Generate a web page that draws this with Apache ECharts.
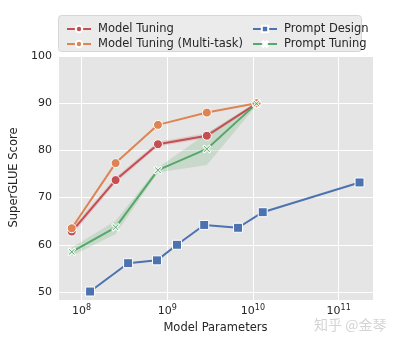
<!DOCTYPE html>
<html>
<head>
<meta charset="utf-8">
<script src="https://cdn.jsdelivr.net/npm/echarts@6/dist/echarts.min.js"></script>
<style>
html,body{margin:0;padding:0;background:#fff;}
#chart{width:397px;height:345px;}
</style>
</head>
<body>
<div id="chart"></div>
<script>
// T5 model sizes (parameters)
const t5Params = [7.7e7, 2.5e8, 7.8e8, 2.9e9, 1.1e10];
const modelTuning = [62.8, 73.7, 81.3, 83.1, 89.9];
const modelTuningLo = [62.0, 73.1, 80.8, 82.6, 89.6];
const modelTuningHi = [63.5, 74.3, 81.8, 83.6, 90.2];
const modelTuningMulti = [63.5, 77.3, 85.4, 88.0, 90.0];
const promptTuning = [58.5, 63.7, 75.8, 80.3, 89.9];
const promptTuningLo = [57.6, 62.3, 75.3, 76.9, 89.5];
const promptTuningHi = [59.4, 65.1, 76.3, 83.6, 90.2];
// GPT-3 sizes
const gpt3Params = [1.26e8, 3.5e8, 7.6e8, 1.3e9, 2.7e9, 6.7e9, 1.3e10, 1.75e11];
const promptDesign = [50.1, 56.1, 56.7, 60.0, 64.2, 63.6, 66.9, 73.2];
const yTicks = [50, 60, 70, 80, 90, 100];
const seriesNames = ['Model Tuning', 'Model Tuning (Multi-task)', 'Prompt Design', 'Prompt Tuning'];

const C = {red:'#C44E52', orange:'#DD8452', blue:'#4C72B0', green:'#55A868'};
const xMark = 'path://M4,0h2v4h4v2h-4v4h-2v-4h-4v-2h4z';

function zip(xs, ys){ return xs.map((x,i)=>[x, ys[i]]); }
function band(xs, lo, hi, color){
  return {
    type:'custom', silent:true, z:1,
    data: xs.map((x,i)=>[x, lo[i], hi[i]]),
    renderItem: function(params, api){
      if (params.dataIndex !== 0) return null;
      const up = xs.map((x,i)=>api.coord([x, hi[i]]));
      const dn = xs.map((x,i)=>api.coord([x, lo[i]])).reverse();
      return {type:'polygon', shape:{points: up.concat(dn)}, style:{fill: color, opacity:0.2}};
    },
    encode:{x:0, y:[1,2]}
  };
}
function line(name, xs, ys, color, symbol, size){
  return {
    name, type:'line', data: zip(xs, ys), z:3,
    symbol, symbolSize:size, symbolRotate: symbol===xMark?45:0,
    lineStyle:{color, width:2},
    itemStyle:{color, borderColor:'#fff', borderWidth:1},
    emphasis:{disabled:true}
  };
}

const chart = echarts.init(document.getElementById('chart'), null, {renderer:'canvas'});
const font = 'DejaVu Sans';
chart.setOption({
  animation:false,
  backgroundColor:'#fff',
  textStyle:{fontFamily:font},
  grid:{left:49, right:24, top:55, bottom:45, show:true, backgroundColor:'#e5e5e5', borderWidth:0},
  graphic:[
    {type:'rect', left:58, top:15, shape:{width:303, height:36, r:3}, style:{fill:'#ebebeb', stroke:'#d6d6d6', lineWidth:1}, z:-1},
    {type:'text', left:314, top:318, style:{text:'知乎 @金琴', fill:'#d4d4d4', font:'14px "Noto Sans CJK SC"'}}
  ],
  legend:[
    {data:[seriesNames[0], seriesNames[1]], orient:'vertical', left:61, top:18, itemWidth:24, itemHeight:8, itemGap:3,
     textStyle:{fontFamily:font, fontSize:11.5, color:'#262626', padding:[0,0,0,2]}},
    {data:[seriesNames[2], seriesNames[3]], orient:'vertical', left:247, top:18, itemWidth:24, itemHeight:8, itemGap:3,
     textStyle:{fontFamily:font, fontSize:11.5, color:'#262626', padding:[0,0,0,2]}}
  ],
  xAxis:{
    type:'log', logBase:10, min:Math.pow(10,7.725), max:Math.pow(10,11.4),
    name:'Model Parameters', nameLocation:'middle', nameGap:19,
    nameTextStyle:{fontFamily:font, fontSize:11.5, color:'#262626'},
    axisLine:{show:false}, axisTick:{show:false},
    axisLabel:{margin:4, color:'#262626', fontFamily:font, fontSize:11, showMinLabel:false, showMaxLabel:false,
      rich:{b:{fontSize:11, color:'#262626', fontFamily:font}, s:{fontSize:8, color:'#262626', fontFamily:font, padding:[0,0,7,0]}},
      formatter:function(v){ const e=Math.round(Math.log10(v)); if (Math.abs(Math.log10(v)-e)>1e-6) return ''; return '{b|10}{s|'+e+'}'; }},
    splitLine:{show:true, lineStyle:{color:'#fff', width:1}},
    minorSplitLine:{show:false}
  },
  yAxis:{
    type:'value', min:48.3, max:100.2, splitNumber:5,
    name:'SuperGLUE Score', nameLocation:'middle', nameGap:30,
    nameTextStyle:{fontFamily:font, fontSize:11.5, color:'#262626'},
    axisLine:{show:false}, axisTick:{show:false},
    axisLabel:{margin:6, color:'#262626', fontFamily:font, fontSize:11,
      formatter:function(v){ return yTicks.indexOf(Math.round(v*1000)/1000)>=0 ? String(v) : ''; }},
    splitLine:{show:true, lineStyle:{color:'#fff', width:1}}
  },
  series:[
    band(t5Params, modelTuningLo, modelTuningHi, C.red),
    band(t5Params, promptTuningLo, promptTuningHi, C.green),
    line(seriesNames[0], t5Params, modelTuning, C.red, 'circle', 9),
    line(seriesNames[1], t5Params, modelTuningMulti, C.orange, 'circle', 9),
    line(seriesNames[2], gpt3Params, promptDesign, C.blue, 'rect', 9),
    line(seriesNames[3], t5Params, promptTuning, C.green, xMark, 9)
  ]
});
</script>
</body>
</html>
